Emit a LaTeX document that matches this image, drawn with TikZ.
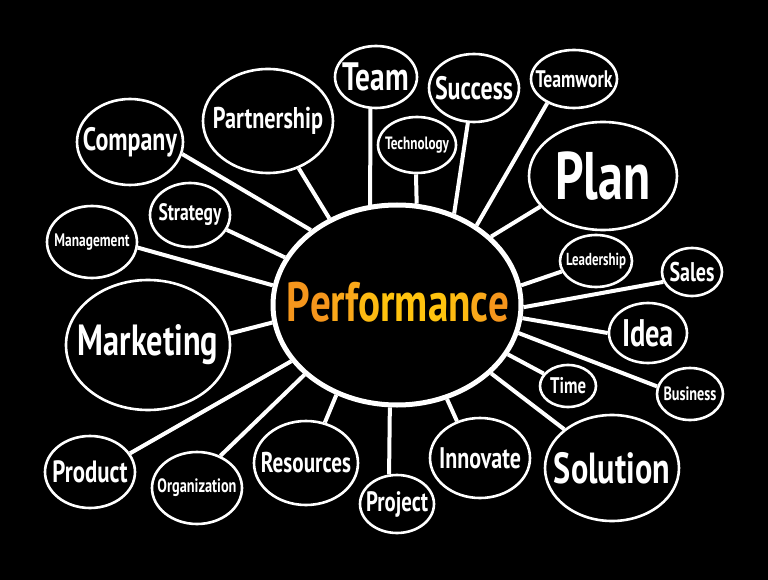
\documentclass[tikz,border=0pt]{standalone}
\usepackage{fontspec}
\setmainfont{PT Sans}
\usetikzlibrary{shapes.geometric}
\definecolor{pfA}{HTML}{F5961C}
\definecolor{pfB}{HTML}{F9A81A}
\definecolor{pfC}{HTML}{FDBA12}
\definecolor{pfD}{HTML}{FFC30E}
\newcommand{\tw}[2]{\resizebox{#1pt}{!}{\scalebox{1}[1.35]{\bfseries #2}}}
\begin{document}
\begin{tikzpicture}[x=1pt,y=-1pt,
  bub/.style n args={2}{ellipse, draw=white, line width=2.6pt, inner sep=0pt, minimum width=#1pt, minimum height=#2pt},
  txt/.style={text=white, inner sep=0pt},
  link/.style={draw=white, line width=4pt}]
\fill[black] (0,0) rectangle (768,580);
\useasboundingbox (0,0) rectangle (768,580);

% centre
\node[bub={248}{200}, line width=5pt] (perf) at (397,305) {};
\node[inner sep=0pt] (perftext) at (398,302) {\tw{223}{\color{pfA}P\color{pfA}e\color{pfB}r\color{pfB}f\color{pfC}o\color{pfD}r\color{pfD}m\color{pfD}a\color{pfC}n\color{pfB}c\color{pfA}e}};

% satellites
\node[bub={106}{86}, label={[txt]center:\tw{94}{Company}}] (company) at (130,142) {};
\node[bub={130}{104}, label={[txt]center:\tw{110}{Partnership}}] (partner) at (268,121) {};
\node[bub={82}{62}, label={[txt]center:\tw{66}{Team}}] (team) at (376,77) {};
\node[bub={78}{56}, label={[txt]center:\tw{64}{Technology}}] (tech) at (417,145) {};
\node[bub={90}{68}, label={[txt]center:\tw{78}{Success}}] (success) at (474,88) {};
\node[bub={86}{58}, label={[txt]center:\tw{77}{Teamwork}}] (teamwork) at (574,79) {};
\node[bub={148}{108}, label={[txt]center:\tw{95}{Plan}}] (plan) at (603,176) {};
\node[bub={72}{52}, label={[txt]center:\tw{60}{Leadership}}] (leader) at (596,261) {};
\node[bub={60}{48}, label={[txt]center:\tw{45}{Sales}}] (sales) at (692,272) {};
\node[bub={78}{60}, label={[txt]center:\tw{52}{Idea}}] (idea) at (648,333) {};
\node[bub={56}{42}, label={[txt]center:\tw{36}{Time}}] (time) at (568,386) {};
\node[bub={66}{52}, label={[txt]center:\tw{53}{Business}}] (business) at (690,394) {};
\node[bub={134}{106}, label={[txt]center:\tw{116}{Solution}}] (solution) at (612,468) {};
\node[bub={100}{80}, label={[txt]center:\tw{82}{Innovate}}] (innovate) at (480,458) {};
\node[bub={74}{58}, label={[txt]center:\tw{62}{Project}}] (project) at (397,504) {};
\node[bub={104}{84}, label={[txt]center:\tw{90}{Resources}}] (resources) at (306,463) {};
\node[bub={90}{72}, label={[txt]center:\tw{79}{Organization}}] (org) at (197,488) {};
\node[bub={90}{72}, label={[txt]center:\tw{75}{Product}}] (product) at (90,472) {};
\node[bub={164}{130}, label={[txt]center:\tw{140}{Marketing}}] (marketing) at (148,345) {};
\node[bub={90}{72}, label={[txt]center:\tw{75}{Management}}] (management) at (92,242) {};
\node[bub={80}{64}, label={[txt]center:\tw{63}{Strategy}}] (strategy) at (190,215) {};

% connectors
\draw[link] (company.-13.8) -- (perf.139.9);
\draw[link] (partner.-57.4) -- (perf.128.5);
\draw[link] (team.-100.9) -- (perf.105.1);
\draw[link] (tech.-92) -- (perf.79.2);
\draw[link] (success.-100) -- (perf.58.6);
\draw[link] (teamwork.-138.2) -- (perf.45.7);
\draw[link] (plan.-154.9) -- (perf.36.3);
\draw[link] (leader.-163.6) -- (perf.9.1);
\draw[link] (sales.-161.6) -- (perf.-1.4);
\draw[link] (idea.180) -- (perf.-6.9);
\draw[link] (business.167.3) -- (perf.-13.1);
\draw[link] (time.153.4) -- (perf.-24.9);
\draw[link] (solution.141.2) -- (perf.-36.2);
\draw[link] (innovate.122.3) -- (perf.-62);
\draw[link] (project.105.4) -- (perf.-94.6);
\draw[link] (resources.65.1) -- (perf.-124);
\draw[link] (org.54.5) -- (perf.-143.8);
\draw[link] (product.25.4) -- (perf.-152.2);
\draw[link] (marketing.8) -- (perf.-172.4);
\draw[link] (management.-7.4) -- (perf.171.4);
\draw[link] (strategy.-22.1) -- (perf.157.3);
\end{tikzpicture}
\end{document}
